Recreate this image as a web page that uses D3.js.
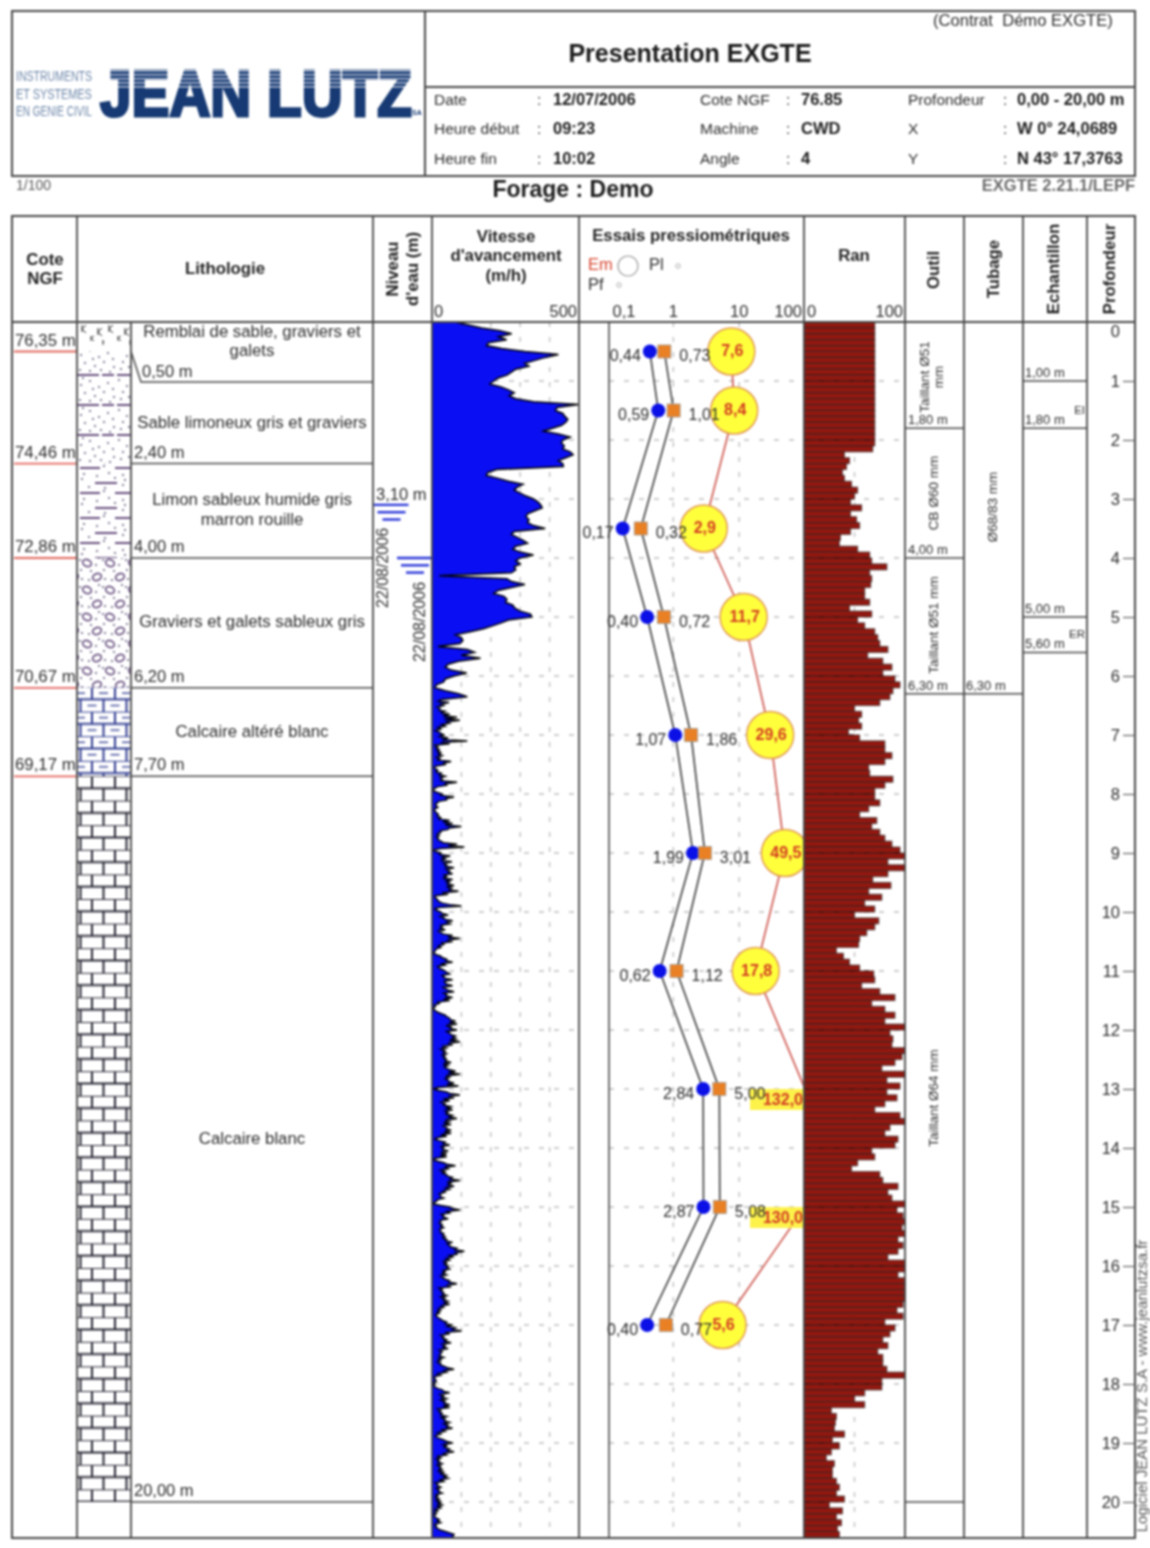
<!DOCTYPE html>
<html>
<head>
<meta charset="utf-8">
<title>Presentation EXGTE</title>
<script src="https://cdnjs.cloudflare.com/ajax/libs/d3/7.8.5/d3.min.js"></script>
<style>
    html, body { margin: 0; padding: 0; background: #fff; }
    /* the reference is a soft scan */
    svg { display: block; filter: blur(0.8px); }
    text { font-family: "Liberation Sans", Arial, sans-serif; fill: #2c2c2c; white-space: pre; }
</style>
</head>
<body>
<div id="chart"></div>
<script>
// Forage header
const infoRows = [
    ["Date", "12/07/2006", "Cote NGF", "76.85", "Profondeur", "0,00 - 20,00 m"],
    ["Heure début", "09:23", "Machine", "CWD", "X", "W 0° 24,0689"],
    ["Heure fin", "10:02", "Angle", "4", "Y", "N 43° 17,3763"]
];

// Lithology layers: base depth and description
const layerBases = [0.5, 2.4, 4.0, 6.2, 7.7, 20.0];
const layerBaseLabels = ["0,50 m", "2,40 m", "4,00 m", "6,20 m", "7,70 m", "20,00 m"];
const layerCotes = ["76,35 m", "74,46 m", "72,86 m", "70,67 m", "69,17 m", ""];
const layerNames = [
    ["Remblai de sable, graviers et", "galets"],
    ["Sable limoneux gris et graviers"],
    ["Limon sableux humide gris", "marron rouille"],
    ["Graviers et galets sableux gris"],
    ["Calcaire altéré blanc"],
    ["Calcaire blanc"]
];
const layerPatterns = ["remblai", "sable", "limon", "gravier", "calcAltere", "calcaire"];

// Water levels
const waterLevels = [3.1, 4.0];
const waterDates = ["22/08/2006", "22/08/2006"];

// Vitesse d'avancement (m/h): one value every 0.05 m down to 6.35 m
const vitesseStep = 0.05;
const vitesse = [
    78,124,169,231,271,226,254,192,186,237,316,430,385,350,315,330,285,270,255,225,
    210,197,235,260,280,262,285,345,498,425,420,445,452,462,455,441,410,379,430,470,
    445,440,450,445,470,480,455,430,445,447,220,190,185,225,260,310,290,280,300,320,
    345,360,370,375,350,325,320,330,325,345,385,280,270,290,310,325,285,275,300,345,
    300,285,300,280,285,270,25,255,270,316,270,225,210,245,255,250,275,282,300,335,
    340,260,235,205,175,130,80,100,105,95,20,120,145,100,165,90,55,45,65,118,
    75,45,40,15,10,45,90,120
];
// then one value every 0.025 m from 6.40 m, the trace is much finer down there
const vitesseDeepStart = 6.4;
const vitesseDeepStep = 0.025;
const vitesseDeep = [
    35,22,58,30,40,18,28,24,45,30,60,38,85,42,95,50,60,32,45,20,30,12,25,30,40,26,55,35,120,30,60,8,20,14,25,18,30,22,35,16,
    28,20,65,40,45,15,8,12,20,14,32,25,45,28,35,30,85,45,50,20,10,5,6,18,35,30,75,48,50,22,18,12,14,20,10,8,12,16,22,18,
    30,24,60,38,70,45,100,58,55,28,30,18,25,15,22,20,30,38,85,55,110,30,5,12,30,26,62,35,45,30,68,40,50,45,75,48,60,55,70,42,
    50,40,70,48,60,52,75,50,68,60,90,35,55,12,10,16,20,24,35,60,100,22,10,18,30,34,55,28,40,45,70,50,62,30,35,28,45,22,30,40,
    70,55,95,52,70,34,40,22,30,14,12,8,6,15,30,35,50,48,70,30,45,20,25,35,45,50,60,35,40,45,70,42,45,50,70,38,45,55,75,40,
    50,48,70,40,60,20,25,8,12,5,6,12,20,32,45,50,60,62,80,58,85,48,65,62,85,50,60,62,80,70,82,60,95,55,70,35,50,30,45,38,
    50,35,45,40,50,45,65,38,55,42,50,60,80,55,95,48,60,45,55,58,75,50,90,20,6,25,50,60,95,55,75,38,60,32,45,40,65,50,70,45,
    55,48,70,58,85,45,60,40,65,35,50,48,65,42,65,30,50,18,10,25,45,38,60,32,40,36,55,30,50,28,50,12,5,20,40,50,80,42,55,30,
    45,35,50,50,70,62,95,52,65,55,75,48,60,38,45,25,30,28,40,20,15,8,5,30,60,68,95,50,60,32,40,38,55,28,30,25,35,30,40,26,
    30,28,40,35,45,38,50,48,70,52,60,62,85,78,110,80,85,58,70,48,60,40,50,42,55,50,60,38,45,35,50,30,40,45,60,58,85,50,65,24,
    35,30,40,36,50,30,45,38,55,42,60,32,40,22,30,18,25,12,15,20,30,35,50,45,65,52,80,70,100,45,60,30,40,36,50,42,65,35,45,38,
    55,25,35,28,30,24,40,22,30,18,30,28,40,52,75,40,50,20,30,8,10,10,15,6,10,5,10,18,35,40,60,28,40,32,50,30,45,40,60,38,
    60,20,30,25,35,30,50,32,45,42,60,40,55,50,70,35,45,20,30,12,15,28,40,50,70,38,50,42,60,52,75,40,50,20,30,15,25,20,35,18,
    30,25,35,22,40,30,50,40,55,28,40,12,20,18,30,15,25,22,35,14,20,12,25,15,30,20,35,18,30,10,20,8,15,6,10,15,25,18,30,10,
    15,12,20,28,45,60,75,72,70
];

// Ran, one bar every 0.1 m
const ranStep = 0.1;
const ran = [
    70,70,70,70,70,70,70,70,70,70,70,70,70,70,70,70,70,70,70,70,
    70,68,40,45,42,38,40,47,53,50,46,57,46,52,55,46,36,35,53,65,
    67,82,65,67,66,60,60,65,45,67,53,60,70,73,75,83,63,78,87,78,
    90,95,88,85,75,50,57,54,57,44,55,80,80,87,80,64,65,88,80,70,
    70,75,64,55,72,67,75,80,87,95,100,83,100,83,68,86,64,77,60,70,
    50,74,70,62,55,54,32,39,45,55,69,70,57,75,90,67,80,90,80,100,
    85,88,87,100,97,90,77,100,82,95,82,92,80,70,95,100,85,80,93,90,
    67,70,53,47,75,78,93,83,87,100,92,98,100,97,100,93,98,93,83,100,
    100,93,100,100,100,100,98,92,98,80,90,85,78,83,73,78,78,82,100,77,
    77,60,50,60,27,32,31,30,40,28,35,27,22,30,28,28,32,35,32,40,
    25,38,32,37,33,35
];

// Essais pressiometriques
const essaiDepths = [0.5, 1.5, 3.5, 5, 7, 9, 11, 13, 15, 17];
const pf = [0.44, 0.59, 0.17, 0.40, 1.07, 1.99, 0.62, 2.84, 2.87, 0.40];
const pl = [0.73, 1.01, 0.32, 0.72, 1.86, 3.01, 1.12, 5.00, 5.08, 0.77];
const em = [7.6, 8.4, 2.9, 11.7, 29.6, 49.5, 17.8, 132.0, 130.0, 5.6];

// Outil, tubage, echantillon
const outilBases = [1.8, 4.0, 6.3, 20.0];
const outilBaseLabels = ["1,80 m", "4,00 m", "6,30 m", ""];
const tubageBases = [6.3];
const tubageBaseLabels = ["6,30 m"];
const echantillonBases = [1.0, 1.8, 5.0, 5.6];
const echantillonLabels = ["1,00 m", "1,80 m", "5,00 m", "5,60 m"];
const echantillonTypes = ["", "EI", "", "ER"];
const depthTicks = d3.range(0, 21);
const gridDepths = d3.range(1, 21);
const vitesseGrid = [100, 200, 300, 400];

const width = 1150, height = 1548;
const textColor = "#2c2c2c", frameColor = "#484848", gridColor = "#c0c0c0";

// Column edges of the table
const col = { cote: 77, lith: 131, text: 373, eau: 432, vit: 579, ess: 804, ran: 905, outil: 964, tub: 1023, ech: 1087, right: 1135 };
const tableTop = 216, headBottom = 322, tableBottom = 1538;

const y = d3.scaleLinear().domain([0, 20]).range([headBottom, 1502]);
const xVit = d3.scaleLinear().domain([0, 500]).range([col.eau, col.vit]);
// values above 100 stay pinned on the right edge of the track
const xEss = d3.scaleLog().domain([0.1, 100]).range([607.5, 805]).clamp(true);
const xRan = d3.scaleLinear().domain([0, 100]).range([col.ess, col.ran]);

const svg = d3.select("#chart").append("svg").attr("width", width).attr("height", height);
const defs = svg.append("defs");
const root = svg.append("g");
root.append("rect").attr("width", width).attr("height", height).attr("fill", "#fff");

function label(g, x, yy, str, opts = {}) {
    return g.append("text").attr("x", x).attr("y", yy).text(str)
        .attr("font-size", opts.size || 15)
        .attr("font-weight", opts.bold ? "bold" : null)
        .attr("text-anchor", opts.anchor || "start")
        .style("fill", opts.color || textColor);
}
function vlabel(g, x, yy, str, opts = {}) {
    return label(g, 0, 0, str, Object.assign({ anchor: "middle" }, opts))
        .attr("transform", `translate(${x},${yy}) rotate(-90)`);
}
function rule(g, x1, y1, x2, y2, color = frameColor, w = 1.5) {
    return g.append("line").attr("x1", x1).attr("y1", y1).attr("x2", x2).attr("y2", y2)
        .attr("stroke", color).attr("stroke-width", w);
}
// Squeezes a text horizontally so that it takes the wanted width
function squeeze(t, x, yy, w) {
    const k = w / t.node().getComputedTextLength();
    t.attr("x", 0).attr("y", 0).attr("transform", `translate(${x},${yy}) scale(${k},1)`);
    return t;
}

// ---------- page header ----------
const head = root.append("g");
head.append("rect").attr("x", 12).attr("y", 11).attr("width", 1123).attr("height", 165)
    .attr("fill", "none").attr("stroke", frameColor).attr("stroke-width", 2);
rule(head, 425, 11, 425, 176, frameColor, 2);
rule(head, 425, 87, 1135, 87, frameColor, 2);
label(head, 933, 26, "(Contrat  Démo EXGTE)", { size: 16.6 });
label(head, 690, 62, "Presentation EXGTE", { size: 25, bold: true, anchor: "middle", color: "#1c1c1c" });

// logo
["INSTRUMENTS", "ET SYSTEMES", "EN GENIE CIVIL"].forEach((t, i) => {
    squeeze(label(head, 0, 0, t, { size: 14, color: "#6f88ab" }), 16, 81 + i * 17.5, 76);
});
squeeze(label(head, 0, 0, "JEAN LUTZ", { size: 64, bold: true, color: "#173a74" }), 100, 116, 312)
    .style("stroke", "#173a74").style("stroke-width", 3);
[70, 74, 78, 82, 86].forEach(yy => {
    head.append("rect").attr("x", 96).attr("y", yy).attr("width", 324).attr("height", 1.5).attr("fill", "#fff").attr("opacity", 0.7);
});
label(head, 412, 115, "SA", { size: 7, bold: true, color: "#173a74" });

// info block
const infoCols = [[434, 537, 553], [700, 786, 801], [908, 1003, 1017]];
infoRows.forEach((row, r) => {
    const yy = 104.5 + r * 29.5;
    infoCols.forEach((c, k) => {
        label(head, c[0], yy, row[k * 2], { size: 15.5 });
        label(head, c[1], yy, ":", { size: 15.5 });
        label(head, c[2], yy, row[k * 2 + 1], { size: 16.5, bold: true, color: "#1c1c1c" });
    });
});
label(head, 16, 190, "1/100", { size: 14, color: "#555" });
label(head, 573, 197, "Forage : Demo", { size: 23, bold: true, anchor: "middle", color: "#1c1c1c" });
label(head, 1135, 191, "EXGTE 2.21.1/LEPF", { size: 16.5, bold: true, anchor: "end", color: "#6a6a6a" });

// ---------- lithology patterns ----------
function pattern(id, w, h, px, py) {
    return defs.append("pattern").attr("id", id).attr("patternUnits", "userSpaceOnUse")
        .attr("x", px).attr("y", py).attr("width", w).attr("height", h);
}
function dots(p, pts, color = "#5c5478") {
    pts.forEach(q => p.append("circle").attr("cx", q[0]).attr("cy", q[1]).attr("r", 1).attr("fill", color));
}
const purple = "#68507f";

const pRemblai = pattern("remblai", 27, 29, 77, 322);
[[5, 3], [21, 6]].forEach(q => {
    pRemblai.append("path").attr("d", `M${q[0]},${q[1]}v7M${q[0]},${q[1] + 4}l4,-4M${q[0]},${q[1] + 4}l4,4`).attr("fill", "none").attr("stroke", "#222").attr("stroke-width", 1);
});
[[14, 14], [26, 18]].forEach(q => pRemblai.append("path").attr("d", `M${q[0]},${q[1]}v5M${q[0]},${q[1] + 2}l3,-2M${q[0]},${q[1] + 2}l3,3`).attr("fill", "none").attr("stroke", "#222").attr("stroke-width", 0.9));

const pSable = pattern("sable", 54, 30, 77, 347);
pSable.append("path").attr("d", "M0,28H54").attr("stroke", purple).attr("stroke-width", 2).attr("stroke-dasharray", "22 3 12 3 14 0");
dots(pSable, [[4, 8], [13, 4], [22, 10], [31, 6], [42, 3], [50, 9], [8, 16], [18, 19], [27, 15], [37, 20], [46, 15], [3, 23], [13, 24], [24, 23], [33, 25], [44, 22], [52, 20], [16, 12], [36, 12], [6, 1]]);

const pLimon = pattern("limon", 54, 25, 77, 464);
pLimon.append("path").attr("d", "M3,4H23M38,4H54M18,19H40").attr("stroke", purple).attr("stroke-width", 1.8);
dots(pLimon, [[7, 10], [27, 2], [32, 9], [46, 11], [12, 23], [28, 24], [46, 21], [5, 15], [48, 16], [20, 12], [38, 14]]);

const pGravier = pattern("gravier", 23, 27, 79, 555);
[[8, 8, 25], [18, 22, -25]].forEach(q => {
    pGravier.append("ellipse").attr("cx", q[0]).attr("cy", q[1]).attr("rx", 4.5).attr("ry", 3.3)
        .attr("transform", `rotate(${q[2]} ${q[0]} ${q[1]})`).attr("fill", "none").attr("stroke", purple).attr("stroke-width", 1.7);
});
dots(pGravier, [[2, 15], [12, 16], [17, 10], [3, 24], [10, 25], [1, 5], [20, 3]]);

// bricks: two rows with staggered joints
function bricks(id, py, color, inner) {
    const h = 12.3;
    const p = pattern(id, 23, h * 2, 69, py);
    p.append("path").attr("d", `M0,0H23M0,${h}H23M23,0V${h}M0,0V${h}M11.5,${h}V${h * 2}`)
        .attr("fill", "none").attr("stroke", color).attr("stroke-width", 2);
    if (inner) {
        p.append("path").attr("d", `M7,${h / 2}H16M18.5,${h * 1.5}H27M-4.5,${h * 1.5}H4.5`)
            .attr("stroke", color).attr("stroke-width", 1.7).attr("opacity", 0.9);
    }
}
bricks("calcAltere", 687, "#2f3c90", true);
bricks("calcaire", 776, "#262634", false);

// ---------- grid behind the tracks ----------
const grid = root.append("g").attr("stroke-dasharray", "5 10");
gridDepths.forEach(d => {
    rule(grid, col.eau + 2, y(d), col.vit, y(d), gridColor, 1.4);
    rule(grid, 609, y(d), col.ess, y(d), gridColor, 1.4);
    rule(grid, col.ess, y(d), col.ran, y(d), gridColor, 1.4);
});
vitesseGrid.forEach(v => rule(grid, xVit(v), headBottom, xVit(v), tableBottom, gridColor, 1.4));
[1, 10].forEach(v => rule(grid, xEss(v), headBottom, xEss(v), tableBottom, gridColor, 1.4));
rule(grid, xRan(50), headBottom, xRan(50), tableBottom, gridColor, 1.4);

// ---------- vitesse track ----------
const vitTrack = root.append("g");
const vitPoints = vitesse.map((v, i) => ({ depth: i * vitesseStep, v }))
    .concat(vitesseDeep.map((v, i) => ({ depth: vitesseDeepStart + i * vitesseDeepStep, v })));
const vitArea = d3.area().x0(col.eau).x1(d => xVit(d.v)).y(d => y(d.depth));
const vitLine = d3.line().x(d => xVit(d.v)).y(d => y(d.depth));
vitTrack.append("path").datum(vitPoints).attr("d", vitArea).attr("fill", "#0a0ef2");
vitTrack.append("path").datum(vitPoints).attr("d", vitLine).attr("fill", "none").attr("stroke", "#000").attr("stroke-width", 1.5);

// ---------- essais pressiometriques ----------
const ess = root.append("g");
rule(ess, 609, headBottom, 609, tableBottom, "#555", 1.7);

const essLine = (vals, color, w) => ess.append("path")
    .datum(vals)
    .attr("d", d3.line().x(d => xEss(d)).y((d, i) => y(essaiDepths[i])))
    .attr("fill", "none").attr("stroke", color).attr("stroke-width", w);
essLine(em, "#cf5a52", 1.7);
essLine(pf, "#3c3c3c", 1.6);
essLine(pl, "#3c3c3c", 1.6);

const emMarks = ess.append("g").selectAll("g").data(em).join("g");
emMarks.each(function (d, i) {
    const g = d3.select(this), cy = y(essaiDepths[i]);
    if (d > 100) {
        // off scale: the value is boxed against the right edge of the track
        g.append("rect").attr("x", 750).attr("y", cy).attr("width", col.ess - 750).attr("height", 21).attr("fill", "#fdf24a");
        label(g, 783, cy + 16, d.toFixed(1).replace(".", ","), { size: 16, bold: true, anchor: "middle", color: "#d23a22" });
    } else {
        g.append("circle").attr("cx", xEss(d)).attr("cy", cy).attr("r", 23.5)
            .attr("fill", "#ffff3c").attr("stroke", "#e29a55").attr("stroke-width", 1.5);
        label(g, xEss(d) + 1, cy + 4.5, d.toFixed(1).replace(".", ","), { size: 16, bold: true, anchor: "middle", color: "#d23a22" });
    }
});
essaiDepths.forEach((d, i) => {
    ess.append("circle").attr("cx", xEss(pf[i])).attr("cy", y(d)).attr("r", 7).attr("fill", "#0a10e6");
    ess.append("rect").attr("x", xEss(pl[i]) - 6.5).attr("y", y(d) - 6.5).attr("width", 13).attr("height", 13)
        .attr("fill", "#ea8024").attr("stroke", "#999").attr("stroke-width", 0.8);
    label(ess, xEss(pf[i]) - 9, y(d) + 9.5, pf[i].toFixed(2).replace(".", ","), { size: 16, anchor: "end" });
    label(ess, xEss(pl[i]) + 15, y(d) + 9.5, pl[i].toFixed(2).replace(".", ","), { size: 16 });
});

// ---------- ran track ----------
const ranG = root.append("g");
ranG.selectAll("rect").data(ran).join("rect")
    .attr("x", xRan(0))
    .attr("y", (d, i) => y(i * ranStep))
    .attr("width", d => xRan(d) - xRan(0))
    .attr("height", y(ranStep) - y(0))
    .attr("fill", "#931810").attr("stroke", "rgba(40,30,30,0.6)").attr("stroke-width", 1.2);
gridDepths.forEach(d => {
    rule(ranG, col.ess, y(d), xRan(ran[Math.round(d / ranStep)]), y(d), "#3c1512", 1.2).attr("stroke-dasharray", "5 10");
});

// ---------- lithology column ----------
const lith = root.append("g");
const layerTops = [0].concat(layerBases.slice(0, -1));
layerPatterns.forEach((id, i) => {
    lith.append("rect").attr("x", col.cote).attr("y", y(layerTops[i]))
        .attr("width", col.lith - col.cote).attr("height", y(layerBases[i]) - y(layerTops[i]))
        .attr("fill", `url(#${id})`);
});
const nameY = [[337, 356], [428], [505, 525], [627], [737], [1144]];
layerNames.forEach((lines, i) => {
    lines.forEach((t, k) => label(lith, 252, nameY[i][k], t, { size: 16.8, anchor: "middle" }));
});
layerBases.forEach((d, i) => {
    const yy = y(d);
    if (i === 0) {
        // shallow base: leader line down to the first label
        lith.append("path").attr("d", `M${col.lith},${yy}L141,382H${col.text}`).attr("fill", "none").attr("stroke", frameColor).attr("stroke-width", 1.5);
        label(lith, 142, 377, layerBaseLabels[i], { size: 16.5 });
    } else {
        rule(lith, col.lith, yy, col.text, yy);
        label(lith, 134, yy - 6, layerBaseLabels[i], { size: 16.5 });
    }
    if (layerCotes[i]) {
        rule(lith, 14, yy, col.cote, yy, "#e2665c", 1.8);
        label(lith, 15, yy - 6, layerCotes[i], { size: 16.8 });
    }
});

// ---------- water level ----------
const eau = root.append("g");
waterLevels.forEach((d, i) => {
    const x0 = i === 0 ? 373.5 : 397;
    [[0, 35], [4, 28], [9, 18]].forEach((s, k) => {
        rule(eau, x0 + s[0], y(d) + k * 7.3, x0 + s[0] + s[1], y(d) + k * 7.3, "#2a36d8", 2.4);
    });
    vlabel(eau, i === 0 ? 388 : 425, i === 0 ? 568 : 622, waterDates[i], { size: 16 });
});
label(eau, 376, 500, "3,10 m", { size: 16.5 });

// ---------- outil, tubage, echantillon ----------
const side = root.append("g");
outilBases.forEach((d, i) => {
    rule(side, col.ran, y(d), col.outil, y(d));
    if (outilBaseLabels[i]) label(side, 908, y(d) - 4, outilBaseLabels[i], { size: 13 });
});
vlabel(side, 929, 377, "Taillant Ø51", { size: 13.5 });
vlabel(side, 943, 377, "mm", { size: 13.5 });
vlabel(side, 938, 493, "CB Ø60 mm", { size: 13.5 });
vlabel(side, 938, 625, "Taillant Ø51 mm", { size: 13.5 });
vlabel(side, 938, 1098, "Taillant Ø64 mm", { size: 13.5 });

tubageBases.forEach((d, i) => {
    rule(side, col.outil, y(d), col.tub, y(d));
    label(side, 966, y(d) - 4, tubageBaseLabels[i], { size: 13 });
});
vlabel(side, 997, 507, "Ø68/83 mm", { size: 13.5 });

echantillonBases.forEach((d, i) => {
    rule(side, col.tub, y(d), col.ech, y(d));
    label(side, 1025, y(d) - 4, echantillonLabels[i], { size: 13 });
    if (echantillonTypes[i]) label(side, 1085, y(d) - 14, echantillonTypes[i], { size: 11.5, anchor: "end" });
});

// ---------- table frame and column heads ----------
const frame = root.append("g");
frame.append("rect").attr("x", 12).attr("y", tableTop).attr("width", col.right - 12).attr("height", tableBottom - tableTop)
    .attr("fill", "none").attr("stroke", frameColor).attr("stroke-width", 2);
rule(frame, 12, headBottom, col.right, headBottom, frameColor, 2);
[col.cote, col.text, col.eau, col.vit, col.ess, col.ran, col.outil, col.tub, col.ech].forEach(x => {
    rule(frame, x, tableTop, x, tableBottom, frameColor, 1.8);
});
rule(frame, col.lith, headBottom, col.lith, tableBottom, frameColor, 1.8);

const bold = { size: 16.8, bold: true, anchor: "middle", color: "#1f1f1f" };
label(frame, 45, 265, "Cote", bold);
label(frame, 45, 284, "NGF", bold);
label(frame, 225, 274, "Lithologie", bold);
vlabel(frame, 398, 269, "Niveau", bold);
vlabel(frame, 418, 269, "d'eau (m)", bold);
label(frame, 506, 242, "Vitesse", bold);
label(frame, 506, 261, "d'avancement", bold);
label(frame, 506, 281, "(m/h)", bold);
label(frame, 691, 241, "Essais pressiométriques", bold);
label(frame, 854, 261, "Ran", bold);
vlabel(frame, 939, 270, "Outil", bold);
vlabel(frame, 999, 269, "Tubage", bold);
vlabel(frame, 1059, 269, "Echantillon", bold);
vlabel(frame, 1115, 269, "Profondeur", bold);

// legend of the test track
label(frame, 588, 270, "Em", { size: 16.5, color: "#d8452f" });
frame.append("circle").attr("cx", 628).attr("cy", 266).attr("r", 10).attr("fill", "#fff").attr("stroke", "#999").attr("stroke-width", 1.2);
label(frame, 649, 270, "Pl", { size: 16.5 });
frame.append("circle").attr("cx", 678).attr("cy", 266).attr("r", 2.2).attr("fill", "#fff").attr("stroke", "#aaa");
label(frame, 588, 290, "Pf", { size: 16.5 });
frame.append("circle").attr("cx", 619).attr("cy", 285).attr("r", 2.2).attr("fill", "#fff").attr("stroke", "#aaa");

// scale labels above each track
label(frame, 434, 317, "0", { size: 16.5 });
label(frame, 577, 317, "500", { size: 16.5, anchor: "end" });
label(frame, xEss(0.1) + 5, 317, "0,1", { size: 16.5 });
label(frame, xEss(1), 317, "1", { size: 16.5, anchor: "middle" });
label(frame, xEss(10), 317, "10", { size: 16.5, anchor: "middle" });
label(frame, 802, 317, "100", { size: 16.5, anchor: "end" });
label(frame, 807, 317, "0", { size: 16.5 });
label(frame, 903, 317, "100", { size: 16.5, anchor: "end" });

// depth axis
const depthAxis = root.append("g").attr("transform", `translate(${col.right},0)`)
    .call(d3.axisLeft(y).tickValues(depthTicks).tickSize(12).tickPadding(3).tickFormat(d3.format("d")));
depthAxis.select(".domain").remove();
depthAxis.selectAll("line").attr("stroke", "#666").attr("stroke-width", 1.2);
depthAxis.selectAll("text").attr("font-size", 16.5).style("fill", textColor)
    .attr("font-family", null);
depthAxis.selectAll(".tick").filter(d => d === 0).select("line").remove();
depthAxis.selectAll(".tick").filter(d => d === 0).select("text").attr("dy", "0.9em").attr("x", -15);

vlabel(root, 1147, 1386, "Logiciel JEAN LUTZ S.A - www.jeanlutzsa.fr", { size: 15, color: "#555" });
</script>
</body>
</html>
